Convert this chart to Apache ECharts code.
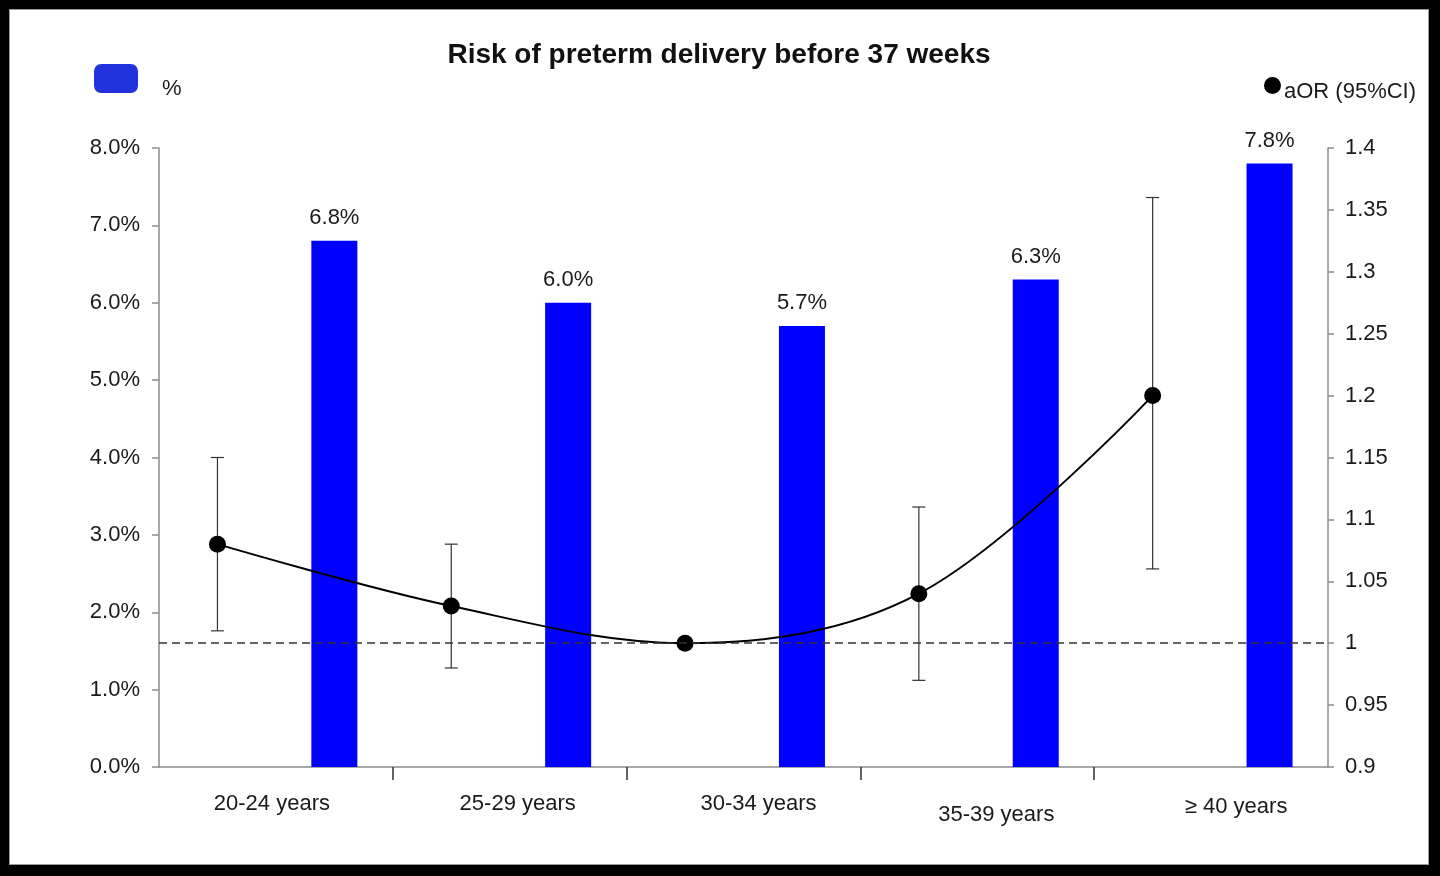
<!DOCTYPE html>
<html>
<head>
<meta charset="utf-8">
<script src="https://cdn.jsdelivr.net/npm/echarts@6/dist/echarts.min.js"></script>
<style>
  html, body { margin: 0; padding: 0; background: #000; width: 1440px; height: 876px; overflow: hidden; }
  #frame { position: absolute; left: 9px; top: 9px; width: 1418px; height: 854px; border: 1px solid #9a9a9a; background: #fff; }
  #chart { width: 1418px; height: 854px; }
</style>
</head>
<body>
<div id="frame"><div id="chart"></div></div>
<script>
// ---- data ----
const categories = ['20-24 years', '25-29 years', '30-34 years', '35-39 years', '\u2265 40 years'];
const pctValues = [6.8, 6.0, 5.7, 6.3, 7.8];          // % preterm delivery (bars, left axis)
const aorValues = [1.08, 1.03, 1.00, 1.04, 1.20];     // adjusted OR (dots, right axis)
const ciLower   = [1.01, 0.98, null, 0.97, 1.06];     // 95% CI lower
const ciUpper   = [1.15, 1.08, null, 1.11, 1.36];     // 95% CI upper
const refOR = 1.0;                                     // dashed reference line
const leftAxis  = { min: 0, max: 8, interval: 1 };
const rightAxis = { min: 0.9, max: 1.4, interval: 0.05 };

// ---- layout constants (placement inside each category band) ----
const BAR_POS = 0.75;
const DOT_POS = 0.25;

const FONT = '"Liberation Sans", Arial, sans-serif';
const TXT = '#1a1a1a';
const AXIS = '#8c8c8c';

const barData = pctValues.map((v, i) => [i + BAR_POS, v]);
const dotData = aorValues.map((v, i) => [i + DOT_POS, v]);
const ciData = [];
ciLower.forEach((lo, i) => { if (lo != null && ciUpper[i] != null) ciData.push([i + DOT_POS, lo, ciUpper[i]]); });

const labelShift = [
  { padding: [0, 8, 0, 0] },
  { padding: [0, 0, 0, 16] },
  { padding: [0, 0, 0, 30] },
  { padding: [11, 0, 0, 38] },
  { padding: [3, 0, 0, 50] }
];
const rich = {};
labelShift.forEach((s, i) => { rich['c' + i] = Object.assign({ fontSize: 22, fontFamily: FONT, color: TXT }, s); });

const chart = echarts.init(document.getElementById('chart'), null, { renderer: 'canvas' });
chart.setOption({
  backgroundColor: '#fff',
  animation: false,
  textStyle: { fontFamily: FONT },
  title: {
    text: 'Risk of preterm delivery before 37 weeks',
    left: 'center',
    top: 26,
    textStyle: { fontSize: 28, fontWeight: 'bold', color: '#111', fontFamily: FONT }
  },
  legend: [
    {
      data: [{ name: '%', icon: 'roundRect', itemStyle: { color: '#2233dd' } }],
      left: 84, top: 54, padding: 0,
      itemWidth: 44, itemHeight: 29,
      formatter: n => '{t|' + n + '}',
      textStyle: {
        fontSize: 22, color: TXT, fontFamily: FONT,
        rich: { t: { fontSize: 22, color: TXT, fontFamily: FONT, padding: [21, 0, 0, 19] } }
      }
    },
    {
      data: [{ name: 'aOR (95%CI)', icon: 'circle' }],
      left: 1254, top: 67, padding: 0,
      itemWidth: 17, itemHeight: 17,
      formatter: n => '{t|' + n + '}',
      textStyle: {
        fontSize: 22, color: TXT, fontFamily: FONT,
        rich: { t: { fontSize: 22, color: TXT, fontFamily: FONT, padding: [13, 0, 0, -2] } }
      }
    }
  ],
  grid: { left: 149, right: 100, top: 138, bottom: 97, containLabel: false },
  xAxis: [
    {
      type: 'category',
      data: categories,
      position: 'bottom',
      boundaryGap: true,
      axisLine: { show: true, lineStyle: { color: AXIS, width: 1.5 } },
      axisTick: { show: false },
      axisLabel: {
        interval: 0, margin: 26, fontSize: 22, color: TXT, fontFamily: FONT,
        formatter: (v, i) => '{c' + i + '|' + v + '}',
        rich: rich
      },
      splitLine: { show: false }
    },
    {
      type: 'value',
      min: 0, max: categories.length, interval: 1,
      position: 'bottom',
      axisLine: { show: false },
      axisLabel: { show: false },
      splitLine: { show: false },
      axisTick: { show: true, length: 13, customValues: [1, 2, 3, 4], lineStyle: { color: '#333', width: 1.5 } }
    }
  ],
  yAxis: [
    {
      type: 'value', position: 'left',
      min: leftAxis.min, max: leftAxis.max, interval: leftAxis.interval,
      axisLine: { show: true, lineStyle: { color: AXIS, width: 1.5 } },
      axisTick: { show: true, length: 7, lineStyle: { color: AXIS, width: 1.5 } },
      axisLabel: { margin: 19, fontSize: 22, color: TXT, fontFamily: FONT, formatter: v => v.toFixed(1) + '%' },
      splitLine: { show: false }
    },
    {
      type: 'value', position: 'right',
      min: rightAxis.min, max: rightAxis.max, interval: rightAxis.interval,
      axisLine: { show: true, lineStyle: { color: AXIS, width: 1.5 } },
      axisTick: { show: true, length: 6, lineStyle: { color: AXIS, width: 1.5 } },
      axisLabel: { margin: 17, fontSize: 22, color: TXT, fontFamily: FONT, formatter: v => String(+v.toFixed(2)) },
      splitLine: { show: false }
    }
  ],
  series: [
    {
      name: '%',
      type: 'bar',
      xAxisIndex: 1, yAxisIndex: 0,
      data: barData,
      barWidth: 46,
      itemStyle: { color: '#0000ff' },
      label: {
        show: true, position: 'top', distance: 12,
        fontSize: 22, color: TXT, fontFamily: FONT,
        formatter: p => p.value[1].toFixed(1) + '%'
      },
      z: 2
    },
    {
      name: 'ci',
      type: 'custom',
      xAxisIndex: 1, yAxisIndex: 1,
      data: ciData,
      encode: { x: 0, y: [1, 2] },
      renderItem: function (params, api) {
        const x = api.value(0);
        const lo = api.coord([x, api.value(1)]);
        const hi = api.coord([x, api.value(2)]);
        const cap = 6.5;
        const style = { stroke: '#333', lineWidth: 1.2, fill: null };
        return {
          type: 'group',
          children: [
            { type: 'line', shape: { x1: lo[0], y1: lo[1], x2: hi[0], y2: hi[1] }, style: style },
            { type: 'line', shape: { x1: lo[0] - cap, y1: lo[1], x2: lo[0] + cap, y2: lo[1] }, style: style },
            { type: 'line', shape: { x1: hi[0] - cap, y1: hi[1], x2: hi[0] + cap, y2: hi[1] }, style: style }
          ]
        };
      },
      z: 3
    },
    {
      name: 'aOR (95%CI)',
      type: 'line',
      xAxisIndex: 1, yAxisIndex: 1,
      data: dotData,
      smooth: 0.35,
      symbol: 'circle',
      symbolSize: 17,
      showSymbol: true,
      itemStyle: { color: '#000' },
      lineStyle: { color: '#000', width: 2 },
      markLine: {
        silent: true,
        symbol: 'none',
        label: { show: false },
        lineStyle: { type: [8, 5], color: '#333', width: 1.6 },
        data: [{ yAxis: refOR }]
      },
      z: 4
    }
  ]
});
</script>
</body>
</html>
